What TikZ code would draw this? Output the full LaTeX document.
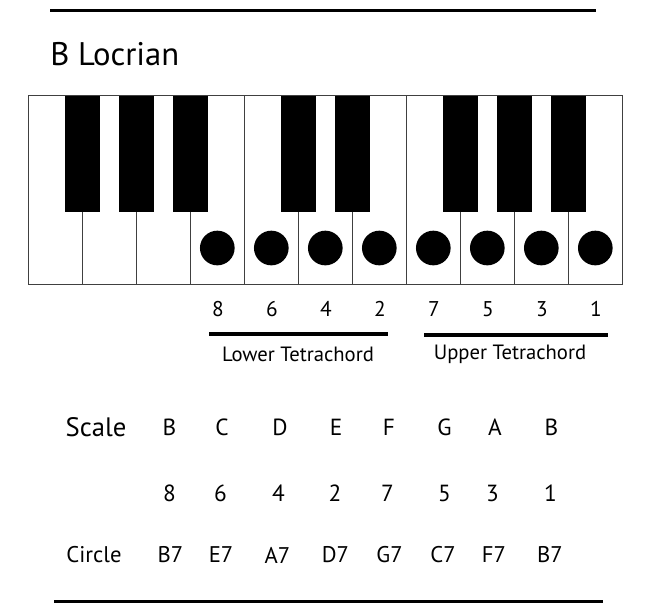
\documentclass[tikz,border=0pt]{standalone}
\usepackage{fontspec}
\setmainfont{PT Sans}

\begin{document}
\begin{tikzpicture}[x=0.75pt,y=-0.75pt,
    whitekey/.style={draw=black!75,line width=0.5pt,fill=white},
    blackkey/.style={fill=black},
    keydot/.style={circle,fill=black,minimum size=26pt,inner sep=0pt},
    rule/.style={line width=2.4pt},
    numlbl/.style={anchor=center,inner sep=0pt,font=\fontsize{16}{19}\selectfont},
    rowlbl/.style={anchor=center,inner sep=0pt,font=\fontsize{17.5}{21}\selectfont}]
    \useasboundingbox (0,0) rectangle (648,612);
    \draw[rule] (50,10.5) -- (596,10.5);
    \node[anchor=base west,inner sep=0pt,font=\fontsize{24.5}{29}\selectfont] (title) at (50,65.7) {B Locrian};
    \foreach \k in {0,...,10}
      \draw[whitekey] ({28.3+54*\k},95.7) rectangle ++(54,188.6);
    \foreach \k in {1,2,3,5,6,8,9,10}
      \fill[blackkey] ({28.3+54*\k-17.5},95.7) rectangle ++(35,116.3);
    \foreach \k [count=\i] in {3,...,10}
      \node[keydot] (dot\i) at ({28.3+54*(\k+0.5)},248) {};
    \foreach \n [count=\i] in {8,6,4,2,7,5,3,1}
      \node[numlbl] (deg\i) at ({29+54*(\i+2.5)},309) {\n};
    \draw[rule] (209,334) -- (387.5,334);
    \draw[rule] (424,335) -- (608,335);
    \node[numlbl,font=\fontsize{15.5}{18}\selectfont] (lower) at (298,354) {Lower Tetrachord};
    \node[numlbl,font=\fontsize{15.5}{18}\selectfont] (upper) at (510,354) {Upper Tetrachord};
    \node[rowlbl,font=\fontsize{20}{24}\selectfont] (scale) at (96,427) {Scale};
    \foreach \x/\t [count=\i] in {169.5/B,222/C,280/D,336/E,389/F,444.5/G,495/A,551.5/B}
      \node[rowlbl] (note\i) at (\x,427) {\t};
    \foreach \x/\t [count=\i] in {169.5/8,220.5/6,278.5/4,335/2,387.5/7,444.5/5,492.5/3,550.5/1}
      \node[rowlbl] (step\i) at (\x,493) {\t};
    \node[rowlbl,font=\fontsize{17}{20}\selectfont] (circle) at (94,555) {Circle};
    \foreach \x/\t [count=\i] in {170.5/B7,221/E7,277.5/A7,335.5/D7,389.5/G7,443/C7,494/F7,550/B7}
      \node[rowlbl,font=\fontsize{17}{20}\selectfont] (chord\i) at (\x,555) {\t};
    \draw[rule] (54,601.7) -- (603,601.7);
\end{tikzpicture}
\end{document}
